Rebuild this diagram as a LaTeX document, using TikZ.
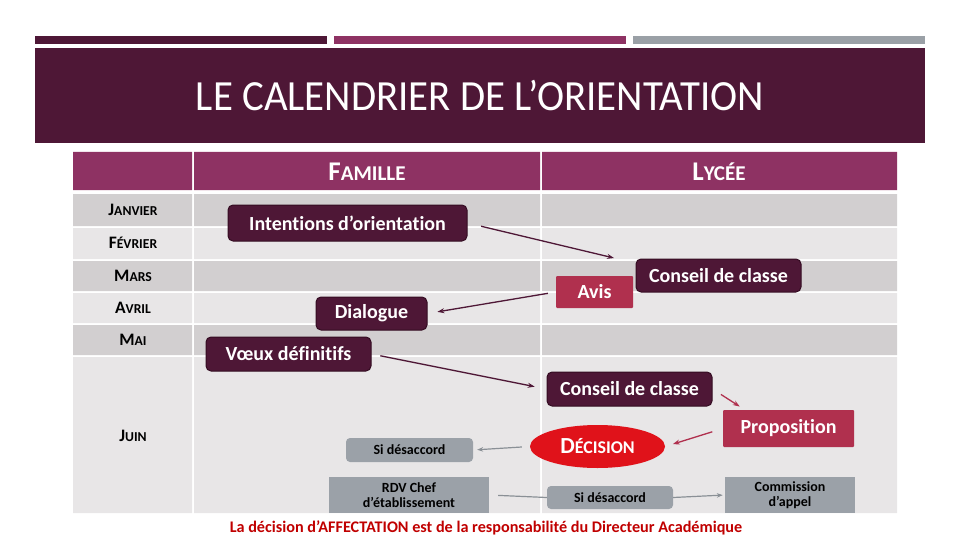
\documentclass[tikz,border=0pt]{standalone}
\usepackage{fontspec}
\setmainfont{Carlito}[Ligatures=NoCommon]
\usetikzlibrary{arrows.meta,shapes.geometric}
\definecolor{plumdark}{RGB}{78,23,54}
\definecolor{plumborder}{RGB}{52,12,34}
\definecolor{plummid}{RGB}{142,50,99}
\definecolor{bargray}{RGB}{154,160,166}
\definecolor{rowdark}{RGB}{210,207,208}
\definecolor{rowlight}{RGB}{232,230,231}
\definecolor{crimson}{RGB}{176,48,78}
\definecolor{decisionred}{RGB}{224,18,26}
\definecolor{boxgray}{RGB}{155,161,168}
\definecolor{footred}{RGB}{192,0,0}
\definecolor{arrowgray}{RGB}{138,144,150}

% fake small capitals: big first letter, smaller rest
\newcommand{\smcap}[2]{#1\scalebox{0.78}{#2}}

\begin{document}
\begin{tikzpicture}[x=1pt, y=-1pt,
    month/.style={font=\fontsize{17.5}{19}\selectfont\bfseries, text=black},
    head/.style={font=\fontsize{27}{30}\selectfont\bfseries, text=white},
    plumbox/.style={draw=plumborder, line width=1pt, fill=plumdark, rounded corners=5pt,
        text=white, font=\fontsize{20}{22}\selectfont\bfseries, inner sep=0pt},
    redbox/.style={fill=crimson, rounded corners=1pt, text=white,
        font=\fontsize{20}{22}\selectfont\bfseries, inner sep=0pt},
    graybox/.style={fill=boxgray, text=black, font=\fontsize{14}{15.5}\selectfont\bfseries,
        inner sep=0pt, align=center},
    darrow/.style={-{Stealth[length=7pt,width=5pt]}, line width=1.3pt, draw=plumdark},
    rarrow/.style={-{Stealth[length=7pt,width=5pt]}, line width=1.3pt, draw=crimson},
    garrow/.style={-{Stealth[length=6pt,width=4.5pt]}, line width=1.2pt, draw=arrowgray}]
  \useasboundingbox (0,0) rectangle (960,540);

  % Bars and title band
  \fill[plumdark] (35,36) rectangle (327,44);
  \fill[plummid] (334,36) rectangle (626,44);
  \fill[bargray] (633,36) rectangle (925,44);
  \fill[plumdark] (35,48) rectangle (925,143);
  \node[text=white, font=\fontsize{43}{46}\selectfont] (title) at (480,95)
      {\scalebox{0.95}[1]{LE CALENDRIER DE L’ORIENTATION}};

  % Table cells (header, then one row per month)
  \fill[plummid] (73,152) rectangle (192,190) (194,152) rectangle (540,190) (542,152) rectangle (897,190);
  \fill[rowdark] (73,194) rectangle (192,226) (194,194) rectangle (540,226) (542,194) rectangle (897,226);
  \fill[rowlight] (73,228) rectangle (192,259) (194,228) rectangle (540,259) (542,228) rectangle (897,259);
  \fill[rowdark] (73,261) rectangle (192,291) (194,261) rectangle (540,291) (542,261) rectangle (897,291);
  \fill[rowlight] (73,293) rectangle (192,323) (194,293) rectangle (540,323) (542,293) rectangle (897,323);
  \fill[rowdark] (73,325) rectangle (192,355) (194,325) rectangle (540,355) (542,325) rectangle (897,355);
  \fill[rowlight] (73,357) rectangle (192,513) (194,357) rectangle (540,513) (542,357) rectangle (897,513);

  % Column heads
  \node[head] (famille) at (367,172) {\smcap{F}{AMILLE}};
  \node[head] (lycee) at (719,172) {\smcap{L}{YCÉE}};

  % Months
  \node[month] (janvier) at (133,210) {\smcap{J}{ANVIER}};
  \node[month] (fevrier) at (133,243) {\smcap{F}{ÉVRIER}};
  \node[month] (mars) at (133,276) {\smcap{M}{ARS}};
  \node[month] (avril) at (133,308) {\smcap{A}{VRIL}};
  \node[month] (mai) at (133,340) {\smcap{M}{AI}};
  \node[month] (juin) at (133,436) {\smcap{J}{UIN}};

  % Steps
  \node[plumbox, minimum width=239pt, minimum height=36pt] (intentions) at (347.5,223) {Intentions d’orientation};
  \node[plumbox, minimum width=111pt, minimum height=33pt] (dialogue) at (371.5,313.5) {Dialogue};
  \node[plumbox, minimum width=165pt, minimum height=34pt] (voeux) at (288.5,354) {Vœux définitifs};
  \node[redbox, minimum width=77pt, minimum height=32pt] (avis) at (594.5,292) {Avis};
  \node[plumbox, minimum width=165pt, minimum height=33pt] (conseilA) at (718.5,275.5) {Conseil de classe};
  \node[plumbox, minimum width=165pt, minimum height=34pt] (conseilB) at (629.5,389) {Conseil de classe};
  \node[redbox, minimum width=131pt, minimum height=37pt] (proposition) at (788.5,428.5) {Proposition};
  \node[ellipse, fill=decisionred, text=white, inner sep=0pt, minimum width=135pt, minimum height=43pt,
      font=\fontsize{23}{25}\selectfont\bfseries] (decision) at (597.5,446.5) {\smcap{D}{ÉCISION}};
  \node[graybox, rounded corners=4pt, minimum width=127pt, minimum height=24pt] (desaccordA) at (409.5,450) {Si désaccord};
  \node[graybox, minimum width=160pt, minimum height=36pt] (rdv) at (409,495) {RDV Chef\\d’établissement};
  \node[graybox, rounded corners=4pt, minimum width=126pt, minimum height=23pt] (desaccordB) at (610,497.5) {Si désaccord};
  \node[graybox, minimum width=130pt, minimum height=36pt] (commission) at (790,495) {Commission\\d’appel};

  % Footer
  \node[text=footred, font=\fontsize{16.2}{18}\selectfont\bfseries] (footer) at (486,528)
      {La décision d'AFFECTATION est de la responsabilité du Directeur Académique};

  % Arrows
  \coordinate (towardLycee) at (614,258);
  \draw[darrow, shorten <=14pt] (intentions.east) -- (towardLycee);
  \draw[darrow, shorten <=8pt, shorten >=10pt] (avis.west) -- (dialogue.east);
  \draw[darrow, shorten <=9pt, shorten >=12pt] (voeux.east) -- (conseilB.west);
  \draw[rarrow, shorten <=10pt, shorten >=6pt] (conseilB.east) -- ([xshift=22pt]proposition.north west);
  \draw[rarrow, shorten <=11pt, shorten >=8pt] (proposition.west) -- (decision.east);
  \draw[garrow, shorten <=8pt, shorten >=4pt] (decision.west) -- (desaccordA.east);
  \draw[line width=1.2pt, draw=arrowgray, shorten >=9pt] (desaccordB.west) -- (rdv.east);
  \draw[garrow, shorten >=2pt] (desaccordB.east) -- (commission.west);
\end{tikzpicture}
\end{document}
